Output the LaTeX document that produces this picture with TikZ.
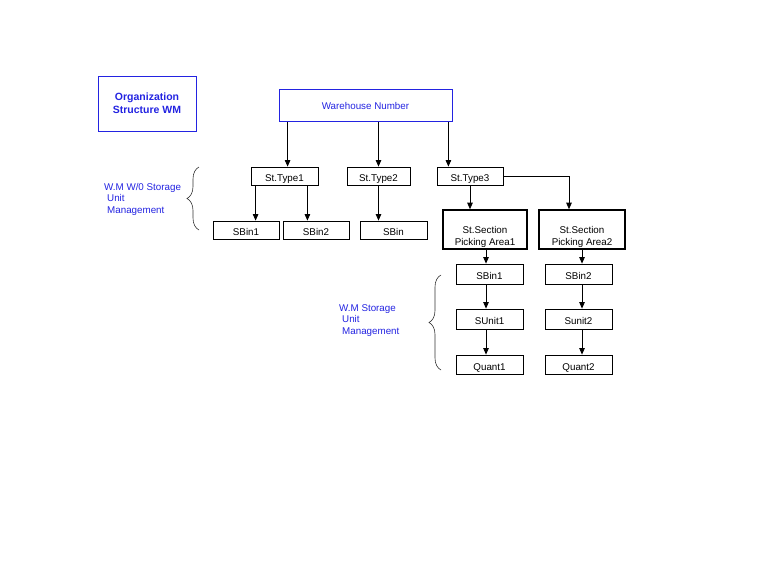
\documentclass[tikz,border=0pt]{standalone}
\usepackage{fontspec}
\setmainfont{Liberation Sans}
\usepackage{tikz}
\usetikzlibrary{arrows.meta, positioning, calc, decorations.pathreplacing}
\usepackage{xcolor}
\definecolor{wmblue}{RGB}{35,35,225}

\tikzset{
  box/.style={draw, line width=0.8pt, inner sep=0pt, text height=12pt, text depth=0.2pt,
              font=\fontsize{9.8}{11.5}\selectfont},
  secbox/.style={draw, line width=1.6pt, inner sep=0pt, align=center, text height=34pt, text depth=2.4pt,
                 font=\fontsize{9.8}{12.2}\selectfont},
  arr/.style={-{Triangle[length=6.5pt,width=5.5pt]}, line width=0.8pt},
  wmbrace/.style={decorate, decoration={brace, amplitude=12pt}, line width=0.6pt, black!80},
  bracetext/.style={anchor=north west, wmblue, align=left, inner sep=0pt, font=\fontsize{9.8}{11.5}\selectfont},
}

\begin{document}
\begin{tikzpicture}[x=1pt, y=-1pt]
        \useasboundingbox (0,0) rectangle (768,576);

        % Titolo
        \node[draw, line width=1pt, minimum width=98pt, minimum height=55pt, align=center, wmblue,
              font=\bfseries\fontsize{10.5}{13}\selectfont] (org) at (147,103.5) {Organization\\Structure WM};

        % Warehouse
        \node[draw, line width=0.8pt, inner sep=0pt, minimum width=173pt, minimum height=32pt, wmblue,
              font=\fontsize{9.8}{11.5}\selectfont] (wh) at (365.5,105.5) {Warehouse Number};

        % Storage types
        \node[box, minimum width=67pt, minimum height=18pt] (t1) at (284.5,176) {St.Type1};
        \node[box, minimum width=63pt, minimum height=18pt] (t2) at (378.5,176) {St.Type2};
        \node[box, minimum width=66pt, minimum height=18pt] (t3) at (470,176) {St.Type3};

        \draw[arr] ([xshift=9pt]wh.south west) -- ([xshift=9pt]wh.south west |- t1.north);
        \draw[arr] (wh.south -| t2.north) -- (t2.north);
        \draw[arr] ([xshift=-4pt]wh.south east) -- ([xshift=-4pt]wh.south east |- t3.north);

        % Bins senza storage unit
        \node[box, minimum width=66pt, minimum height=18pt] (b1) at (246,230) {SBin1};
        \node[box, minimum width=66pt, minimum height=18pt] (b2) at (316,230) {SBin2};
        \node[box, minimum width=67pt, minimum height=18pt] (b3) at (393.5,230) {SBin};

        \draw[arr] ([xshift=5pt]t1.south west) -- ([xshift=5pt]t1.south west |- b1.north);
        \draw[arr] ([xshift=-11pt]t1.south east) -- ([xshift=-11pt]t1.south east |- b2.north);
        \draw[arr] (t2.south) -- (t2.south |- b3.north);

        % Sections
        \node[secbox, minimum width=84pt, minimum height=39pt] (sa) at (485,229.5) {St.Section\\Picking Area1};
        \node[secbox, minimum width=86pt, minimum height=39pt] (sb) at (582,229.5) {St.Section\\Picking Area2};

        \draw[arr] (t3.south) -- (t3.south |- sa.north);
        \draw[arr] (t3.east) -| ([xshift=-13pt]sb.north);

        % Bins, units, quants
        \node[box, minimum width=67pt, minimum height=20pt] (c1) at (489.5,274) {SBin1};
        \node[box, minimum width=67pt, minimum height=20pt] (c2) at (578.5,274) {SBin2};
        \node[box, minimum width=67pt, minimum height=20pt] (u1) at (489.5,319) {SUnit1};
        \node[box, minimum width=67pt, minimum height=20pt] (u2) at (578.5,319) {Sunit2};
        \node[box, minimum width=67pt, minimum height=19pt] (q1) at (489.5,364.5) {Quant1};
        \node[box, minimum width=67pt, minimum height=19pt] (q2) at (578.5,364.5) {Quant2};

        \draw[arr] ([xshift=-3.5pt]sa.south -| c1.south) -- ([xshift=-3.5pt]c1.north);
        \draw[arr] ([xshift=-3.5pt]c1.south) -- ([xshift=-3.5pt]u1.north);
        \draw[arr] ([xshift=-3.5pt]u1.south) -- ([xshift=-3.5pt]q1.north);
        \draw[arr] (sb.south) -- (sb.south |- c2.north);
        \draw[arr] ([xshift=3.5pt]c2.south) -- ([xshift=3.5pt]u2.north);
        \draw[arr] ([xshift=3.5pt]u2.south) -- ([xshift=3.5pt]q2.north);

        % Graffe
        \draw[wmbrace] (199,230) -- (199,167);
        \node[bracetext] (wm0) at (104,183) {W.M W/0 Storage\\\hspace{3pt}Unit\\\hspace{3pt}Management};

        \draw[wmbrace] (441,370) -- (441,275);
        \node[bracetext] (wm1) at (339,304) {W.M Storage\\\hspace{3pt}Unit\\\hspace{3pt}Management};
    \end{tikzpicture}
\end{document}
